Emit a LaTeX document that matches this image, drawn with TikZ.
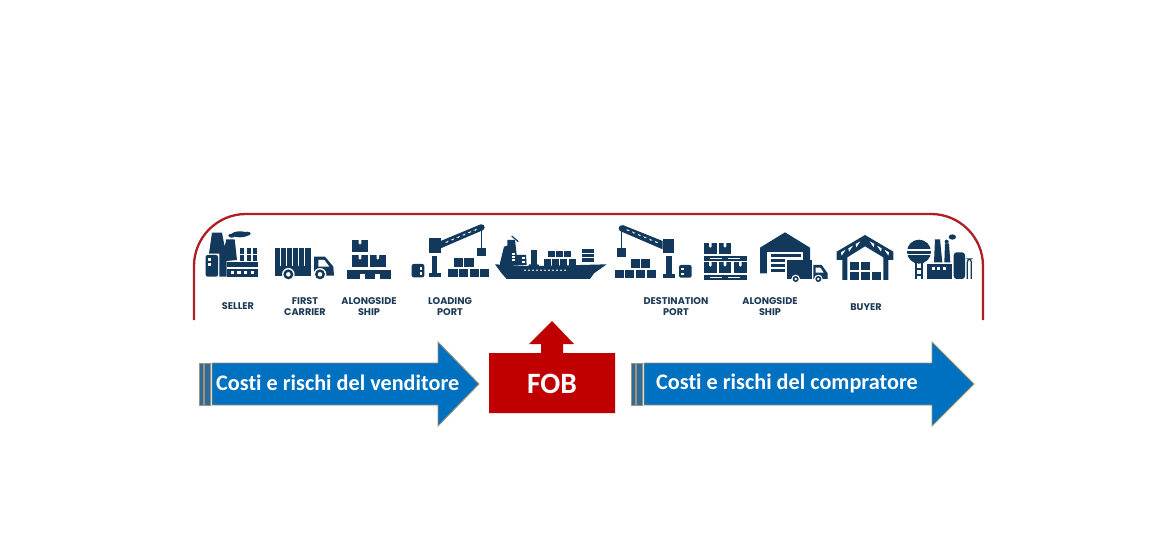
\documentclass[tikz,border=0pt]{standalone}
\usepackage{fontspec}
\setmainfont{Carlito}[Ligatures=CommonOff]
\newfontfamily\labfont{Poppins}
\definecolor{ic}{HTML}{12395B}
\definecolor{lab}{HTML}{1E3A56}
\definecolor{fr}{HTML}{B01E23}
\definecolor{blu}{HTML}{0070C0}
\definecolor{strp}{HTML}{2F6C98}
\definecolor{edge}{HTML}{A09478}
\definecolor{rd}{HTML}{C00000}
\tikzset{
 zA/.style={shift={(190pt,-205pt)},x=0.33333pt,y=-0.33333pt},
 zB/.style={shift={(490pt,-205pt)},x=0.33333pt,y=-0.33333pt},
 zC/.style={shift={(735pt,-205pt)},x=0.33333pt,y=-0.33333pt},
 iconfill/.style={fill=ic},
 hole/.style={fill=white},
 steplabel/.style={font=\labfont\bfseries\fontsize{9.7}{11}\selectfont,text=lab,align=center,inner sep=0pt},
 arrowshape/.style={fill=blu,draw=edge,line width=0.9pt,line join=miter},
 stripe/.style={fill=strp,draw=edge,line width=0.6pt},
 arrowtext/.style={font=\bfseries\fontsize{22.2}{24}\selectfont,text=white,inner sep=0pt,anchor=west},
}
\newcommand{\rc}[4]{\fill[iconfill] (#1,#2) rectangle (#3,#4);}
\newcommand{\wc}[4]{\fill[hole] (#1,#2) rectangle (#3,#4);}
\newcommand{\crate}[4]{\rc{#1}{#2}{#3}{#4}\fill[hole] ({(#1+#3)/2-4},#2) -- ({(#1+#3)/2+4},#2) -- ({(#1+#3)/2+4},{#2+10}) -- ({(#1+#3)/2},{#2+14}) -- ({(#1+#3)/2-4},{#2+10}) -- cycle;}
\newcommand{\whl}[3]{\fill[hole] (#1,#2) circle ({#3+4});\fill[iconfill] (#1,#2) circle (#3);\fill[hole] (#1,#2) circle ({#3*0.45});}
\begin{document}
\begin{tikzpicture}[x=1pt,y=-1pt]
\useasboundingbox[fill=white] (0,0) rectangle (1168,540);
% frame
\draw[fr,line width=2.3pt] (194,320) -- (194,266) arc[start angle=180,end angle=270,radius=52] -- (931,214) arc[start angle=-90,end angle=0,radius=52] -- (983,320);

\begin{scope}[zA]
% seller
\fill[iconfill] (57,146) -- (66,83) -- (96,83) -- (104,125) -- (109,103) -- (134,103) -- (141,165) -- (110,168) -- (110,215) -- (88,215) -- (88,146) -- cycle;
\fill[iconfill,rounded corners=2pt] (47,150) rectangle (84,215);
\wc{55}{160}{64}{168}\wc{55}{175}{64}{183}
\fill[iconfill] (150,88) ellipse (25 and 9);\fill[iconfill] (125,92) ellipse (10 and 6);\fill[iconfill] (172,86) ellipse (10 and 6);
\foreach \x in {150,170,190}{\rc{\x}{130}{\x+12}{147}\rc{\x}{150}{\x+12}{167}}
\rc{112}{170}{204}{187}\rc{112}{191}{204}{215}
\foreach \x in {122,142,162,182}{\wc{\x}{199}{\x+10}{207}}
% truck
\rc{256}{128}{362}{212}
\foreach \x in {270,288,306,324,342}{\wc{\x}{128}{\x+4}{182}}
\fill[iconfill] (372,155) -- (405,155) -- (430,185) -- (432,212) -- (372,212) -- cycle;
\fill[hole] (385,165) -- (403,165) -- (418,185) -- (385,185) -- cycle;
\whl{295}{208}{15}\whl{390}{208}{15}
% pallet boxes
\crate{487}{105}{533}{142}\crate{487}{150}{533}{187}\crate{540}{150}{587}{187}
\rc{471}{196}{603}{208}\rc{471}{208}{510}{222}\rc{525}{208}{555}{222}\rc{570}{208}{603}{222}
% loading crane
\rc{716}{100}{752}{143}\rc{727}{152}{742}{205}\rc{716}{205}{752}{217}
\fill[iconfill] (752,108) -- (872,58) -- (880,75) -- (752,130) -- cycle;
\foreach \i in {0,1,2,3,4,5}{\fill[hole] ({765+\i*17},{112-\i*7.2}) -- ({776+\i*17},{107-\i*7.2}) -- ({772+\i*17},{113-\i*7.2}) -- cycle;}
\fill[iconfill] (875,67) circle (9);
\draw[ic,line width=0.9pt] (875,67) -- (875,130);
\rc{862}{128}{888}{152}
\fill[iconfill,rounded corners=2pt] (665,177) rectangle (703,217);
\wc{689}{187}{697}{194}\wc{689}{202}{697}{209}
\foreach \x in {775,807,839,870}{\rc{\x}{191}{\x+28}{217}}
\foreach \x in {791,823}{\rc{\x}{159}{\x+28}{186}}
\end{scope}

\begin{scope}[zB]
% ship
\fill[iconfill] (15,178) -- (115,183) -- (118,178) -- (145,178) -- (148,183) -- (350,178) -- (312,205) -- (300,222) -- (50,222) -- (35,205) -- cycle;
\fill[iconfill] (30,174) -- (42,125) -- (52,122) -- (52,105) -- (75,105) -- (80,150) -- (108,150) -- (110,180) -- (30,180) -- cycle;
\draw[ic,line width=1.2pt] (65,93) -- (85,110);
\rc{123}{135}{140}{180}
\foreach \x in {175,199,223}{\rc{\x}{137}{\x+21}{157}}
\foreach \x in {163,187,211,236}{\rc{\x}{161}{\x+21}{182}}
\rc{275}{133}{312}{143}\rc{275}{147}{312}{157}\rc{275}{160}{312}{172}
\wc{67}{144}{74}{150}\wc{67}{154}{74}{160}\wc{67}{162}{74}{167}\wc{97}{157}{104}{163}\wc{97}{168}{104}{174}
\foreach \x in {105,117,...,225}{\fill[hole] (\x,196) circle (2.6);}
% destination crane
\rc{518}{102}{553}{145}\rc{528}{153}{545}{207}\rc{518}{207}{555}{220}
\fill[iconfill] (518,108) -- (398,60) -- (390,78) -- (518,133) -- cycle;
\foreach \i in {0,1,2,3,4,5}{\fill[hole] ({505-\i*17},{113-\i*7.2}) -- ({494-\i*17},{108-\i*7.2}) -- ({498-\i*17},{114-\i*7.2}) -- cycle;}
\fill[iconfill] (395,70) circle (9);
\draw[ic,line width=0.9pt] (393,70) -- (393,130);
\rc{382}{130}{408}{155}
\foreach \x in {374,406,438,470}{\rc{\x}{194}{\x+27}{220}}
\foreach \x in {422,454}{\rc{\x}{163}{\x+27}{189}}
\fill[iconfill,rounded corners=2pt] (567,180) rectangle (605,218);
\wc{574}{189}{582}{196}\wc{574}{204}{582}{211}
% stacked pallets
\crate{642}{114}{680}{147}\crate{686}{114}{724}{147}
\rc{642}{153}{771}{168}\wc{660}{159}{695}{162}\wc{715}{159}{750}{162}
\crate{642}{171}{680}{204}\crate{686}{171}{724}{204}\crate{732}{171}{770}{204}
\rc{642}{210}{771}{225}\wc{660}{216}{695}{219}\wc{715}{216}{750}{219}
\end{scope}

\begin{scope}[zC]
% warehouse + truck
\fill[iconfill] (75,128) -- (150,82) -- (225,128) -- (225,165) -- (205,165) -- (205,205) -- (75,205) -- cycle;
\wc{97}{142}{205}{215}
\rc{107}{148}{198}{155}\rc{107}{163}{150}{170}\rc{107}{178}{150}{185}\rc{107}{193}{150}{200}
\wc{150}{160}{158}{228}
\rc{155}{165}{230}{222}
\fill[iconfill] (235,180) -- (260,180) -- (278,205) -- (278,222) -- (235,222) -- cycle;
\fill[hole] (242,188) -- (256,188) -- (266,203) -- (242,203) -- cycle;
\whl{182}{222}{9}\whl{250}{222}{9}
% buyer
\fill[iconfill] (305,140) -- (390,90) -- (475,140) -- (475,165) -- (460,165) -- (460,225) -- (445,225) -- (445,157) -- (390,124) -- (337,157) -- (337,225) -- (322,225) -- (322,165) -- (305,165) -- cycle;
\foreach \x/\y in {318/142,340/130,362/117}{\fill[hole] (\x,\y) -- (\x+14,\y-8) -- (\x+2,\y+10) -- cycle;}
\foreach \x/\y in {462/142,440/130,418/117}{\fill[hole] (\x,\y) -- (\x-14,\y-8) -- (\x-2,\y+10) -- cycle;}
\rc{345}{170}{371}{196}\rc{378}{170}{404}{196}\rc{345}{200}{371}{226}\rc{378}{200}{404}{226}\rc{412}{200}{438}{226}
% refinery
\fill[iconfill] (552,140) circle (36);
\wc{515}{133}{590}{138}\wc{515}{146}{590}{150}
\rc{540}{175}{546}{222}\rc{558}{175}{564}{222}\rc{540}{190}{564}{196}\rc{540}{208}{564}{214}
\fill[iconfill] (600,103) -- (615,103) -- (622,172) -- (597,172) -- cycle;
\fill[iconfill] (630,115) -- (642,115) -- (646,172) -- (628,172) -- cycle;
\fill[iconfill] (652,96) ellipse (11 and 8);\fill[iconfill] (635,110) circle (6);
\rc{575}{178}{650}{222}
\foreach \x in {590,607,624}{\wc{\x}{187}{\x+9}{195}}
\fill[iconfill,rounded corners=3pt] (656,142) rectangle (690,222);
\draw[ic,line width=1.2pt,rounded corners=3pt] (697,222) -- (697,162) -- (709,162) -- (709,222);
\end{scope}

% labels
\node[steplabel] (seller) at (238,306) {SELLER};
\node[steplabel] (firstcarrier) at (305,307) {FIRST\\CARRIER};
\node[steplabel] (alongsideA) at (369,307) {ALONGSIDE\\SHIP};
\node[steplabel] (loading) at (450,307) {LOADING\\PORT};
\node[steplabel] (destination) at (676,307) {DESTINATION\\PORT};
\node[steplabel] (alongsideB) at (770,307) {ALONGSIDE\\SHIP};
\node[steplabel] (buyer) at (866,307) {BUYER};

% left arrow
\draw[stripe] (199,363) rectangle (203,405);
\draw[stripe] (204.5,363) rectangle (210,405);
\draw[arrowshape] (212,363) -- (438,363) -- (438,342) -- (479,384) -- (438,426) -- (438,405) -- (212,405) -- cycle;
\node[arrowtext] (sellertext) at (216,383) {Costi e rischi del venditore};
% right arrow
\draw[stripe] (631,363) rectangle (635,405);
\draw[stripe] (636.5,363) rectangle (642,405);
\draw[arrowshape] (644,363) -- (932,363) -- (932,342) -- (974,384) -- (932,426) -- (932,405) -- (644,405) -- cycle;
\node[arrowtext] (buyertext) at (656,383) {Costi e rischi del compratore};
% FOB
\fill[rd] (489,353) -- (541,353) -- (541,344) -- (529,344) -- (552,321) -- (574,344) -- (563,344) -- (563,353) -- (615,353) -- (615,413) -- (489,413) -- cycle;
\node[font=\bfseries\fontsize{29.5}{30}\selectfont,text=white,inner sep=0pt] (fob) at (552,384) {FOB};
\end{tikzpicture}
\end{document}
